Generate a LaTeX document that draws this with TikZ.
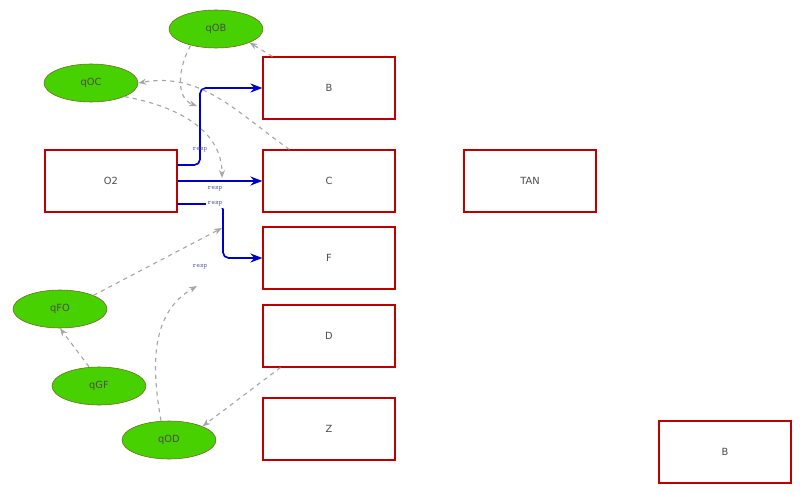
\documentclass[tikz,border=0pt]{standalone}
\usepackage{fontspec}
\setmainfont{DejaVu Sans}
\usetikzlibrary{shapes.geometric,arrows.meta}
\tikzset{
  box/.style={draw=red!75!black,thick,fill=white,minimum width=3.3cm,minimum height=1.55cm,font=\scriptsize,text=black!70},
  q/.style={ellipse,draw=olive!70!black,fill=green!60!olive!90!yellow,minimum width=2.35cm,minimum height=0.95cm,font=\scriptsize,text=black!70},
  rel/.style={very thick,draw=blue!80!black,-{Stealth[length=3mm]},rounded corners=4pt},
  dep/.style={thick,draw=black!35,dashed,-{Stealth[length=2mm]}},
  lbl/.style={font=\ttfamily\tiny,text=blue!30!gray,inner sep=1pt}
}
\begin{document}
\begin{tikzpicture}[x=0.025cm,y=-0.025cm]
                \useasboundingbox (0,0) rectangle (800,492);

                \node[box] (O2) at (111,181) {O2};
                \node[box] (B) at (329,88) {B};
                \node[box] (C) at (329,181) {C};
                \node[box] (TAN) at (530,181) {TAN};
                \node[box] (F) at (329,258) {F};
                \node[box] (D) at (329,336) {D};
                \node[box] (Z) at (329,429) {Z};
                \node[box] (B2) at (725,452) {B};

                \node[q] (qOB) at (216,29) {qOB};
                \node[q] (qOC) at (91,83) {qOC};
                \node[q] (qFO) at (60,309) {qFO};
                \node[q] (qGF) at (99,386) {qGF};
                \node[q] (qOD) at (169,440) {qOD};

                \coordinate (r1) at (197,106);
                \coordinate (r2) at (222,178);
                \coordinate (r3) at (222,228);
                \coordinate (r4) at (197,286);

                \draw[rel] (O2.east |- 0,165) -| (200,88) -- (B.west);
                \draw[rel] (O2.east) -- (C.west);
                \draw[rel] (O2.east |- 0,204) -| (223,258) -- (F.west);

                \node[lbl] (l1) at (200,150) {resp};
                \node[lbl,fill=white] (l2) at (215,189) {resp};
                \node[lbl,fill=white] (l3) at (215,204) {resp};
                \node[lbl] (l4) at (200,267) {resp};

                \draw[dep] (qOB.south west) ++(8,3) to[out=-120,in=160] (r1);
                \draw[dep] (qOC.south east) to[out=-10,in=90] (r2);
                \draw[dep] (C.north west) ++(27,0) to[out=145,in=10] (qOC.east);
                \draw[dep] (B.north west) ++(10,0) -- (qOB.south east);
                \draw[dep] (qFO.north east) -- (r3);
                \draw[dep] (qOD.north) ++(-8,0) to[out=100,in=-150] (r4);
                \draw[dep] (qGF.north) ++(-10,0) -- (qFO.south);
                \draw[dep] (D.south west) ++(18,0) -- (qOD.north east);
            \end{tikzpicture}
\end{document}
